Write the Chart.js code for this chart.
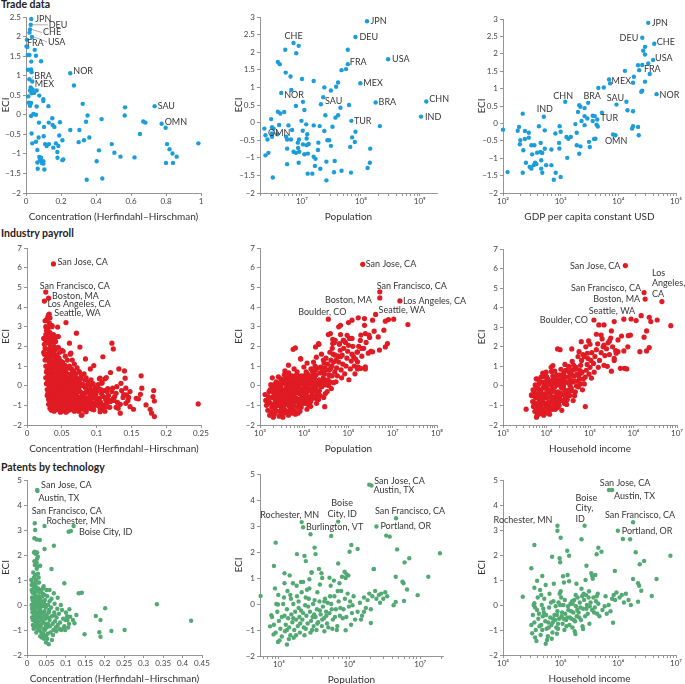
<!DOCTYPE html>
<html>
<head>
<meta charset="utf-8">
<script src="https://cdn.jsdelivr.net/npm/chart.js@4.4.1/dist/chart.umd.min.js"></script>
<style>
html, body { margin: 0; padding: 0; background: #fff; }
#wrap { position: relative; width: 685px; height: 684px; overflow: hidden; font-family: Lato, 'Noto Sans', sans-serif; }
.row-title { position: absolute; left: 1px; font-weight: bold; font-size: 10.5px; line-height: 12px; color: #222; white-space: nowrap; }
.panel { position: absolute; }
</style>
</head>
<body>
<div id="wrap">
  <div class="row-title" style="top:-2px">Trade data</div>
  <div class="row-title" style="top:227px">Industry payroll</div>
  <div class="row-title" style="top:461px">Patents by technology</div>
</div>
<script>
// ---- Trade data (countries) ----
const tradeHhi = [[0.03,2.45],[0.027,2.3],[0.023,2.18],[0.02,2.1],[0.034,1.99],[0.005,1.92],[0.003,1.75],[0.008,1.73],[0.05,1.66],[0.01,1.53],[0.02,1.53],[0.057,1.51],[0.03,1.36],[0.086,1.37],[0.253,1.06],[0.274,0.75],[0.011,1.15],[0.029,1.16],[0.032,1.09],[0.019,0.91],[0.036,0.85],[0.027,0.7],[0.038,0.65],[0.023,0.62],[0.061,0.62],[0.032,0.55],[0.046,0.56],[0.013,0.47],[0.076,0.49],[0.099,0.4],[0.099,0.35],[0.015,0.31],[0.029,0.3],[0.023,0.23],[0.061,0.21],[0.128,0.22],[0.324,0.28],[0.566,0.19],[0.735,0.22],[0.029,-0.03],[0.042,0.02],[0.057,0],[0.15,-0.09],[0.352,-0.02],[0.564,-0.02],[0.432,-0.11],[0.343,-0.18],[0.194,-0.19],[0.074,-0.2],[0.13,-0.2],[0.152,-0.26],[0.162,-0.31],[0.103,-0.31],[0.67,-0.17],[0.682,-0.2],[0.775,-0.23],[0.798,-0.33],[0.253,-0.39],[0.305,-0.39],[0.032,-0.48],[0.19,-0.53],[0.072,-0.58],[0.101,-0.55],[0.362,-0.58],[0.651,-0.49],[0.208,-0.65],[0.036,-0.73],[0.057,-0.69],[0.331,-0.65],[0.301,-0.7],[0.109,-0.75],[0.118,-0.8],[0.131,-0.75],[0.171,-0.73],[0.185,-0.8],[0.806,-0.75],[0.82,-0.88],[0.837,-0.99],[0.861,-1.07],[0.985,-0.73],[0.8,-1.23],[0.84,-1.23],[0.404,-1.19],[0.417,-0.91],[0.505,-0.97],[0.347,-1.66],[0.436,-1.63],[0.213,-1.14],[0.067,-1.38],[0.105,-1.4],[0.065,-1.22],[0.08,-1.16],[0.09,-1.23],[0.099,-1.19],[0.076,-1.08],[0.083,-1.12],[0.065,-0.9],[0.156,-0.84],[0.179,-0.95],[0.49,-0.75],[0.62,-1.09],[0.54,-1.07],[0.086,-1.1],[0.099,-1.25],[0.18,-1.1],[0.208,-1.16]];
const tradeHhiLabels = [['JPN',0.03,2.45],['DEU',0.027,2.3],['CHE',0.023,2.18],['USA',0.034,1.99],['FRA',0.005,1.92],['BRA',0.019,0.91],['MEX',0.027,0.7],['NOR',0.253,1.06],['SAU',0.735,0.22],['OMN',0.775,-0.23]];

const tradePop = [[1.27e8,2.88],[8.1e7,2.43],[7.2e6,2.26],[8.8e6,2.18],[5.2e6,2.07],[8e6,1.97],[6e7,2.07],[6e7,1.66],[5.6e7,1.52],[4.7e7,1.49],[2.9e8,1.8],[3.9e6,1.72],[4.2e6,1.66],[5.3e6,1.42],[6.4e6,1.31],[1e7,1.24],[1.58e7,1.18],[9.8e7,1.12],[4.1e7,1.14],[3.8e7,1.02],[2.4e7,1],[3.1e7,0.91],[6.6e6,0.93],[4.45e6,0.84],[2.3e7,0.72],[1.04e7,0.59],[7.9e6,0.47],[1.1e7,0.36],[2.1e7,0.52],[6.3e7,0.5],[4.5e7,0.42],[1.78e8,0.57],[1.29e9,0.6],[1.05e9,0.17],[3.9e6,0.31],[4.3e6,0.26],[5e6,0.3],[2.5e7,0.21],[4.1e7,0.21],[3.7e7,0.14],[6.9e7,0.05],[3e6,0.1],[9.8e6,0.05],[1.18e7,-0.05],[5.9e6,-0.08],[4.1e6,-0.07],[1.58e7,-0.08],[2e7,-0.1],[3.3e7,-0.12],[2.1e8,-0.1],[2.3e6,-0.17],[3.1e6,-0.13],[3.3e6,-0.17],[6.8e6,-0.21],[1.03e7,-0.23],[2.4e7,-0.24],[8.1e7,-0.26],[3.1e6,-0.31],[2.4e6,-0.36],[2.6e6,-0.48],[3.1e6,-0.4],[3.8e6,-0.33],[5.4e6,-0.4],[5.6e6,-0.48],[6.5e6,-0.48],[8.9e6,-0.48],[8.5e6,-0.57],[1.2e7,-0.45],[1.23e7,-0.33],[2.7e7,-0.5],[2.9e7,-0.5],[7.1e7,-0.42],[7.9e7,-0.55],[1.9e7,-0.57],[1.04e7,-0.62],[1.2e7,-0.64],[1.3e7,-0.61],[3.1e7,-0.66],[6.6e7,-0.69],[1.44e8,-0.74],[5.6e6,-0.74],[8.6e6,-0.72],[7.2e6,-0.83],[7.9e6,-0.86],[9e6,-0.83],[1.1e7,-0.9],[1.26e7,-0.88],[1.58e7,-0.97],[1.7e7,-1.03],[1.87e7,-0.78],[2.4e6,-0.93],[2.7e6,-0.86],[2.6e7,-1.11],[3.6e7,-1.09],[8.8e6,-1.14],[5.6e6,-1.18],[1.66e7,-1.23],[2.05e7,-1.31],[1.42e8,-1.14],[1.3e8,-1.29],[4.7e7,-1.37],[3.5e7,-1.41],[6.8e7,-1.42],[1.25e7,-1.45],[1.5e7,-1.45],[3.2e6,-1.56],[2.6e7,-1.64]];
const tradePopLabels = [['JPN',1.27e8,2.88],['DEU',8.1e7,2.43],['CHE',7.2e6,2.26],['FRA',6e7,1.66],['USA',2.9e8,1.8],['MEX',9.8e7,1.12],['NOR',4.45e6,0.84],['SAU',2.1e7,0.52],['BRA',1.78e8,0.57],['CHN',1.29e9,0.6],['IND',1.05e9,0.17],['TUR',6.9e7,0.05],['OMN',3.1e6,-0.31]];
const tradePopDecades = [1e7, 1e8, 1e9];
const tradePopTickLabels = ['10⁷', '10⁸', '10⁹'];

const tradeGdp = [[3.3e4,2.89],[2.6e4,2.46],[2.9e4,2.2],[4.2e4,2.29],[2.7e4,2.09],[2.9e4,1.98],[4e4,1.82],[3.3e4,1.72],[2.2e4,1.67],[2.6e4,1.68],[2.3e4,1.53],[3.5e4,1.42],[1.3e4,1.51],[1.86e4,1.34],[6.9e3,1.26],[7.2e3,1.15],[1.8e4,1.17],[2.9e4,1.2],[2.6e4,0.94],[2.5e4,0.91],[4.6e4,0.84],[5.6e3,1.03],[4.5e3,1.02],[1.2e3,0.62],[3e3,0.59],[1.38e4,0.62],[9.3e3,0.54],[1.44e4,0.38],[1.8e4,0.35],[2.1e3,0.52],[2.2e3,0.48],[2.6e3,0.44],[2e3,0.33],[5.2e3,0.31],[2.6e3,0.21],[2.9e3,0.14],[3.9e3,0.21],[4.3e3,0.11],[3.6e3,0.07],[2.3e3,0.07],[4.2e3,-0.04],[4.4e3,-0.09],[1.8e3,-0.02],[2.6e3,-0.05],[1.8e4,-0.08],[2.2e4,-0.1],[1.73e4,-0.15],[2.26e4,-0.34],[5.1e2,0.19],[2.2e2,0.28],[9.6e2,-0.08],[4.2e2,-0.08],[5.3e2,-0.2],[1.9e2,-0.1],[1.8e2,-0.21],[2.4e2,-0.22],[2.8e2,-0.27],[2.8e2,-0.41],[2.4e2,-0.45],[2e2,-0.48],[1.96e2,-0.6],[8.1e2,-0.29],[1e3,-0.24],[1.26e3,-0.39],[1.36e3,-0.44],[1.5e3,-0.39],[1.9e3,-0.27],[1.9e3,-0.63],[2.2e3,-0.66],[2.1e3,-0.87],[3.1e3,-0.53],[3.2e3,-0.68],[3.8e3,-0.45],[4e3,-0.44],[8.9e3,-0.34],[3.1e2,-0.63],[3.5e2,-0.63],[4.5e2,-0.56],[3.9e2,-0.84],[4.45e2,-0.82],[4.8e2,-0.85],[5.3e2,-0.73],[6.9e2,-0.75],[9.4e2,-0.56],[9.5e2,-0.72],[3.2e2,-0.89],[2.25e2,-0.77],[1.3e3,-0.99],[4.6e2,-1.06],[3.6e2,-1.13],[3.4e2,-1.2],[3.8e2,-1.17],[2.5e2,-1.13],[2.9e2,-1.25],[3.1e2,-1.3],[4.6e2,-1.3],[5.6e2,-1.2],[6.9e2,-1.2],[4.8e2,-1.42],[2.2e2,-1.42],[1.2e2,-1.4],[8.2e2,-1.42],[1e3,-1.54],[7.6e2,-1.62],[1e2,-0.18],[3.6e3,0.22],[8.1e3,-0.32]];
const tradeGdpLabels = [['JPN',3.3e4,2.89],['DEU',2.6e4,2.46],['CHE',4.2e4,2.29],['USA',4e4,1.82],['FRA',2.3e4,1.53],['MEX',7.2e3,1.15],['NOR',4.6e4,0.84],['CHN',1.2e3,0.62],['BRA',3e3,0.59],['SAU',9.3e3,0.54],['IND',5.1e2,0.19],['TUR',4.3e3,0.11],['OMN',8.9e3,-0.34]];
const tradeGdpDecades = [1e2, 1e3, 1e4, 1e5];
const tradeGdpTickLabels = ['10²', '10³', '10⁴', '10⁵'];

// ---- Industry payroll (US metro areas) ----
const payrollHhi = [[0.038,6.19],[0.027,4.76],[0.031,4.45],[0.025,4.3],[0.032,3.64],
[0.026,3.3],[0.028,3.35],[0.027,3.0],[0.024,2.4],[0.025,2.1],[0.024,1.7],[0.025,1.6],[0.026,1.9],[0.027,2.6],[0.028,2.8],[0.026,1.3],[0.027,1.0],[0.028,0.7],[0.027,0.4],[0.028,0.1],[0.029,-0.2],[0.028,1.5],[0.027,2.3],
[0.03,3.5],[0.031,3.6],[0.033,3.45],[0.032,3.2],[0.034,3.05],[0.03,2.9],[0.033,2.7],[0.031,2.5],[0.035,2.45],[0.03,2.3],[0.032,2.15],[0.034,2.0],[0.03,1.85],[0.033,1.7],[0.031,1.5],[0.035,1.55],[0.03,1.3],[0.032,1.2],[0.034,1.1],[0.03,0.95],[0.033,0.85],[0.031,0.7],[0.035,0.6],[0.03,0.5],[0.032,0.35],[0.034,0.2],[0.031,0.05],[0.033,-0.1],[0.035,-0.3],[0.032,-0.45],[0.034,-0.6],[0.035,-0.8],
[0.036,3.05],[0.038,2.6],[0.04,2.4],[0.037,2.25],[0.039,2.0],[0.041,1.85],[0.036,1.75],[0.038,1.6],[0.04,1.45],[0.042,1.3],[0.037,1.2],[0.039,1.05],[0.041,0.95],[0.036,0.85],[0.038,0.7],[0.04,0.6],[0.042,0.5],[0.037,0.4],[0.039,0.25],[0.041,0.15],[0.036,0.05],[0.038,-0.1],[0.04,-0.2],[0.042,-0.35],[0.037,-0.5],[0.039,-0.65],[0.041,-0.8],[0.038,-0.95],[0.04,-1.1],[0.042,-1.0],[0.044,-1.2],
[0.044,2.5],[0.045,1.95],[0.047,1.7],[0.043,1.55],[0.046,1.4],[0.048,1.25],[0.044,1.1],[0.047,1.0],[0.05,1.1],[0.045,0.85],[0.048,0.75],[0.043,0.65],[0.046,0.55],[0.049,0.45],[0.044,0.35],[0.047,0.25],[0.05,0.15],[0.045,0.05],[0.048,-0.05],[0.043,-0.15],[0.046,-0.25],[0.049,-0.35],[0.044,-0.5],[0.047,-0.6],[0.05,-0.7],[0.045,-0.8],[0.048,-0.9],[0.046,-1.05],[0.049,-1.15],[0.047,-1.25],[0.05,-1.3],
[0.052,1.75],[0.055,1.5],[0.058,1.3],[0.051,1.2],[0.054,1.05],[0.057,0.95],[0.06,0.9],[0.052,0.8],[0.055,0.7],[0.058,0.6],[0.051,0.5],[0.054,0.4],[0.057,0.3],[0.06,0.2],[0.052,0.1],[0.055,0.0],[0.058,-0.1],[0.051,-0.2],[0.054,-0.3],[0.057,-0.4],[0.06,-0.5],[0.052,-0.6],[0.055,-0.7],[0.058,-0.8],[0.053,-0.9],[0.056,-1.0],[0.059,-1.1],[0.054,-1.2],[0.057,-1.3],[0.06,-1.25],
[0.062,1.6],[0.065,1.3],[0.068,1.1],[0.061,1.0],[0.064,0.85],[0.067,0.75],[0.07,0.6],[0.062,0.55],[0.065,0.4],[0.068,0.3],[0.061,0.2],[0.064,0.1],[0.067,0.0],[0.07,-0.1],[0.062,-0.2],[0.065,-0.3],[0.068,-0.4],[0.061,-0.5],[0.064,-0.6],[0.067,-0.7],[0.07,-0.8],[0.063,-0.9],[0.066,-1.0],[0.069,-1.1],[0.064,-1.2],[0.068,-1.3],
[0.072,0.9],[0.075,0.7],[0.078,0.5],[0.071,0.4],[0.074,0.25],[0.077,0.1],[0.08,0.0],[0.072,-0.1],[0.075,-0.25],[0.078,-0.35],[0.071,-0.5],[0.074,-0.6],[0.077,-0.75],[0.08,-0.85],[0.073,-0.95],[0.076,-1.05],[0.079,-1.15],[0.074,-1.25],[0.078,-1.5],
[0.082,0.6],[0.085,0.4],[0.088,0.2],[0.081,0.05],[0.084,-0.1],[0.087,-0.25],[0.09,-0.4],[0.082,-0.5],[0.085,-0.65],[0.088,-0.8],[0.083,-0.95],[0.086,-1.1],[0.089,-1.0],[0.084,-1.25],
[0.092,0.3],[0.095,0.1],[0.098,-0.1],[0.091,-0.2],[0.094,-0.45],[0.097,-0.6],[0.1,-0.75],[0.093,-0.85],[0.096,-1.0],[0.099,-0.9],[0.094,-1.2],
[0.104,0.35],[0.108,0.15],[0.112,0.35],[0.103,-0.15],[0.107,-0.4],[0.11,-0.55],[0.113,-0.7],[0.117,-0.5],[0.106,-0.85],[0.109,-1.0],[0.115,-0.9],[0.119,-1.1],[0.105,-1.15],[0.112,-1.3],
[0.122,-0.3],[0.126,-0.55],[0.13,-0.85],[0.134,-0.95],[0.128,-1.1],[0.136,-0.25],[0.139,-0.45],[0.142,-0.9],[0.146,-0.6],[0.125,-0.75],
[0.029,0.8],[0.03,0.25],[0.03,-0.4],[0.031,-0.7],[0.033,0.45],[0.034,-0.9],[0.035,0.95],[0.036,-1.0],[0.037,0.15],[0.038,0.45],[0.039,-0.3],[0.04,0.9],[0.04,-0.45],[0.041,-1.2],[0.042,0.05],[0.043,-0.75],[0.043,1.0],[0.044,-0.2],[0.045,0.5],[0.045,-1.05],[0.046,-0.6],[0.046,0.9],[0.047,-0.05],[0.048,0.4],[0.048,-1.35],[0.049,0.7],[0.049,-0.55],[0.05,-1.0],[0.05,0.3],[0.051,-0.4],[0.051,0.85],[0.052,-1.1],[0.053,-0.25],[0.053,0.55],[0.054,-0.95],[0.055,0.25],[0.055,-0.5],[0.056,-1.35],[0.056,0.85],[0.057,-0.75],[0.058,0.1],[0.059,-0.3],[0.059,0.5],[0.06,-0.9],[0.06,0.0],[0.061,-0.65],[0.062,-1.1],[0.063,0.3],[0.063,-0.4],[0.064,-0.95],[0.065,0.65],[0.066,-0.15],[0.066,-0.5],[0.067,-1.25],[0.068,0.15],[0.069,-0.6],[0.069,-0.25],[0.07,0.3],[0.071,-1.05],[0.072,-0.35],[0.073,0.15],[0.073,-0.7],[0.074,-1.3],[0.075,-0.05],[0.076,-0.9],[0.077,0.35],[0.078,-0.6],[0.079,-1.2],[0.08,-0.4],[0.081,-0.7],[0.082,-1.05],[0.083,0.3],[0.084,-0.35],[0.086,-0.8],[0.087,0.05],[0.089,-0.6],[0.09,-1.15],[0.091,0.0],[0.092,-0.7],[0.093,-0.3],[0.095,-1.1],[0.097,-0.2],[0.099,-0.45],[0.101,-1.0],[0.102,0.05],[0.104,-0.65],[0.106,-0.2],[0.108,-1.1],[0.111,-0.25],[0.113,-0.95],[0.116,-0.15],[0.118,-0.75],[0.03,1.6],[0.032,2.4],[0.029,2.6],[0.031,1.0],[0.033,1.35],[0.035,1.9],[0.037,1.45],[0.039,1.75],[0.041,1.1],[0.029,-0.5],[0.031,-0.95],[0.033,-1.15],[0.035,-1.25],[0.037,-0.85],[0.039,-1.3],[0.034,0.75],[0.036,0.3],[0.038,0.1],[0.031,0.45],[0.044,0.2],[0.047,-0.35],[0.052,0.35],[0.054,-0.1],[0.057,0.6],[0.06,0.55],[0.062,-0.35],[0.065,-0.75],[0.067,0.45],[0.07,-0.5],
[0.056,3.21],[0.071,2.67],[0.036,3.0],[0.044,2.98],[0.076,1.96],[0.061,2.16],[0.063,1.65],[0.045,2.5],[0.041,2.25],[0.05,1.8],[0.122,2.16],[0.124,1.87],[0.109,1.47],[0.084,1.36],[0.096,1.02],[0.091,0.85],[0.075,0.7],[0.132,0.85],[0.14,0.75],[0.12,0.67],[0.141,0.38],[0.164,0.5],[0.105,0.38],[0.114,0.41],[0.107,0.12],[0.142,-0.13],[0.148,-0.3],[0.182,-0.25],[0.165,-0.13],[0.163,-0.44],[0.181,-0.55],[0.183,-0.78],[0.171,-0.98],[0.177,-1.2],[0.179,-1.4],[0.183,-1.57],[0.246,-0.93],[0.153,-1.2],[0.148,-1.07],[0.134,-1.4],[0.131,-1.15],[0.145,-0.76],[0.157,-0.64],[0.16,-0.67],[0.143,-0.47],[0.128,-0.39],[0.138,-0.6],[0.124,-0.64],[0.12,-0.8],[0.115,-1.07],[0.11,-1.23],[0.103,-0.98],[0.098,-0.55],[0.1,-0.3],[0.091,-0.38],[0.115,-0.3],[0.123,-0.13],[0.129,-0.05],[0.135,0.12],[0.085,-1.32],[0.079,-1.49],[0.096,-1.23],[0.105,-1.32]];
const payrollHhiLabels = [['San Jose, CA',0.038,6.19],['San Francisco, CA',0.027,4.76],['Boston, MA',0.031,4.45],['Los Angeles, CA',0.025,4.3],['Seattle, WA',0.032,3.64]];

const payrollPop = [[2.1e5,6.17],[5.1e5,4.77],[5.1e5,4.46],[1.45e6,4.31],[4.1e5,3.62],[3.5e4,3.38],
[1.3e3,-0.45],[1.35e3,-0.75],[1.4e3,-1.0],[1.5e3,-1.25],[1.6e3,-0.3],[1.55e3,-0.55],[1.7e3,-0.9],[1.8e3,-1.35],[1.75e3,0.05],[1.9e3,0.4],[1.95e3,-0.15],[1.85e3,-1.1],[1.65e3,-1.5],
[2.0e3,-1.6],[2.1e3,-1.45],[2.2e3,-1.2],[2.05e3,-0.95],[2.3e3,-0.8],[2.15e3,-0.6],[2.4e3,-0.4],[2.25e3,-0.2],[2.5e3,0.0],[2.35e3,0.2],[2.6e3,0.45],[2.7e3,-1.55],[2.8e3,-1.3],[2.9e3,-1.05],[2.65e3,-0.85],[3.0e3,-0.65],[2.75e3,-0.45],[3.1e3,-0.25],[2.85e3,-0.05],[3.2e3,0.15],[2.95e3,0.35],[2.2e3,0.1],[2.45e3,-1.0],[3.05e3,-1.45],
[3.3e3,-1.6],[3.5e3,-1.4],[3.4e3,-1.15],[3.7e3,-0.95],[3.6e3,-0.7],[3.9e3,-0.5],[3.45e3,-0.3],[4.0e3,-0.1],[3.8e3,0.1],[4.2e3,0.3],[3.55e3,0.55],[4.4e3,-1.5],[4.6e3,-1.25],[4.3e3,-1.0],[4.8e3,-0.8],[4.5e3,-0.6],[4.9e3,-0.35],[4.1e3,-0.2],[4.7e3,0.0],[4.35e3,0.2],[4.95e3,0.4],[3.65e3,0.75],[4.45e3,0.65],[3.35e3,-0.85],
[5.1e3,-1.4],[5.4e3,-1.2],[5.7e3,-1.0],[5.2e3,-0.75],[6.0e3,-0.55],[5.5e3,-0.3],[6.3e3,-0.1],[5.8e3,0.1],[6.6e3,0.3],[5.3e3,0.5],[6.9e3,0.7],[6.2e3,-1.3],[7.0e3,-1.1],[7.4e3,-0.85],[6.7e3,-0.65],[7.7e3,-0.4],[7.1e3,-0.2],[7.8e3,0.05],[6.4e3,0.15],[7.5e3,0.45],[5.9e3,0.85],[7.2e3,-1.4],[5.6e3,1.85],
[8.0e3,-1.3],[8.5e3,-1.1],[9.0e3,-0.9],[8.2e3,-0.7],[9.5e3,-0.5],[8.8e3,-0.3],[1.0e4,-0.1],[9.2e3,0.1],[1.05e4,0.3],[8.6e3,0.5],[1.1e4,0.7],[9.8e3,0.95],[1.15e4,-1.2],[1.2e4,-0.95],[1.08e4,-0.75],[1.22e4,-0.55],[1.12e4,-0.35],[1.25e4,-0.15],[1.18e4,0.05],[1.02e4,0.25],[1.24e4,0.45],[1.16e4,1.15],[8.3e3,1.35],
[1.3e4,-1.0],[1.4e4,-0.8],[1.35e4,-0.6],[1.5e4,-0.4],[1.45e4,-0.2],[1.6e4,0.0],[1.55e4,0.2],[1.7e4,0.4],[1.65e4,0.6],[1.8e4,0.8],[1.75e4,1.0],[1.9e4,-0.9],[1.85e4,-0.65],[1.95e4,-0.45],[1.38e4,0.1],[1.48e4,0.5],[1.62e4,1.2],[1.72e4,-0.25],[1.98e4,0.15],[1.88e4,1.45],[1.42e4,0.85],
[2.1e4,-0.7],[2.3e4,-0.5],[2.2e4,-0.25],[2.5e4,-0.05],[2.4e4,0.2],[2.7e4,0.4],[2.6e4,0.65],[2.9e4,0.9],[2.8e4,1.15],[3.1e4,1.4],[2.15e4,2.1],[2.45e4,1.6],[3.0e4,-0.4],[2.75e4,-0.6],[3.15e4,0.05],[2.35e4,0.95],[2.95e4,0.25],
[3.3e4,-0.3],[3.6e4,0.0],[3.4e4,0.3],[3.9e4,0.5],[3.7e4,0.8],[4.2e4,1.0],[4.0e4,1.3],[4.5e4,1.6],[4.3e4,1.9],[4.8e4,2.2],[3.5e4,2.6],[4.6e4,0.15],[4.1e4,-0.15],[4.9e4,0.7],[3.8e4,1.7],[4.4e4,2.35],
[5.2e4,0.2],[5.6e4,0.5],[5.4e4,0.9],[6.0e4,1.2],[5.8e4,1.5],[6.5e4,1.8],[6.2e4,2.1],[7.0e4,0.4],[6.8e4,0.8],[7.4e4,1.1],[7.2e4,1.55],[7.8e4,1.9],[7.6e4,2.3],[5.3e4,1.3],[6.6e4,2.6],
[8.2e4,0.6],[8.8e4,1.0],[9.2e4,1.4],[9.6e4,1.75],[1.0e5,2.05],[1.05e5,2.4],[1.1e5,0.85],[1.15e5,1.25],[1.2e5,1.6],[8.5e4,2.2],[1.25e5,2.0],[1.02e5,0.3],
[1.35e5,1.0],[1.45e5,1.35],[1.55e5,1.7],[1.7e5,2.0],[1.85e5,2.3],[2.0e5,1.5],[2.2e5,1.9],[2.5e5,2.2],[2.8e5,1.65],[3.0e5,2.45],[1.4e5,0.6],[1.65e5,0.95],[2.4e5,0.85],[3.2e5,1.75],
[1.6e3,-0.8],[1.7e3,-0.2],[1.9e3,-0.6],[2.0e3,-0.35],[2.1e3,-0.05],[2.2e3,-0.75],[2.3e3,-1.0],[2.4e3,-1.3],[2.5e3,-0.6],[2.6e3,-0.25],[2.7e3,0.1],[2.8e3,-0.7],[2.9e3,-0.4],[3.0e3,0.0],[3.1e3,-1.2],[3.2e3,-0.9],
[3.4e3,0.3],[3.5e3,-0.55],[3.6e3,-0.2],[3.7e3,-1.25],[3.8e3,-0.75],[3.9e3,0.4],[4.0e3,-1.3],[4.1e3,-0.6],[4.2e3,-0.35],[4.3e3,0.05],[4.4e3,-0.85],[4.5e3,-0.1],[4.6e3,0.45],[4.7e3,-1.05],[4.8e3,-0.5],[4.9e3,0.15],[5.0e3,-0.6],[5.1e3,0.2],[5.3e3,-0.15],[5.5e3,-0.9],[5.7e3,-0.4],[5.9e3,0.35],[6.1e3,-0.8],[6.3e3,-1.45],[6.5e3,-0.35],[6.7e3,0.55],[6.9e3,-0.05],[7.1e3,-0.75],[7.3e3,0.25],[7.6e3,-0.95],[7.9e3,-0.15],
[8.1e3,0.2],[8.4e3,-0.45],[8.7e3,-0.95],[9.1e3,0.3],[9.4e3,-0.2],[9.7e3,-0.7],[1.0e4,0.5],[1.04e4,-0.9],[1.07e4,-0.3],[1.1e4,0.15],[1.14e4,-0.6],[1.18e4,0.6],[1.22e4,-0.05],[1.26e4,-0.8],[1.3e4,0.3],[1.35e4,-0.25],[1.4e4,-1.05],[1.45e4,0.25],[1.5e4,-0.65],[1.55e4,0.7],[1.6e4,-0.2],[1.65e4,0.35],[1.7e4,-0.55],[1.75e4,0.15],[1.8e4,-0.2],[1.85e4,0.55],[1.9e4,0.0],[1.95e4,0.9],
[2.05e4,-0.35],[2.15e4,0.3],[2.25e4,0.65],[2.35e4,0.0],[2.5e4,0.85],[2.6e4,0.2],[2.7e4,1.3],[2.85e4,0.6],[3.0e4,0.05],[3.2e4,0.8],[3.4e4,1.1],[3.6e4,0.55],[3.8e4,0.2],[4.0e4,0.9],[4.3e4,0.5],[4.6e4,1.2],
[2.2e6,3.11],[1.05e6,3.38],[8e5,3.36],[6.8e5,3.28],[3.5e5,3.33],[2.3e5,3.41],[1.66e5,3.45],[1.2e5,3.33],[1e5,3.21],[6.6e4,3.07],[6e4,2.99],[6.3e5,2.82],[3.8e5,2.77],[2.3e5,3.07],[2.4e5,2.65],[2.9e5,2.57],[4.7e5,2.48],[1.9e5,2.57],[1.2e5,2.4],[9.3e4,2.56],[7.8e4,2.31],[6.3e4,2.14],[5e4,2.31],[3.9e4,2.65],[4.4e4,2.14],[2.1e4,2.14],[1.8e4,1.97],[7.6e5,2.14],[6.8e5,1.97],[5e5,1.81],[3.5e5,1.72],[2e5,1.89],[1.6e5,1.72],[1.3e5,1.47],[1.6e5,1.21],[1.9e5,0.88],[1.6e5,0.85],[2.4e5,0.96],[6.6e4,1.47],[5e4,1.55],[6.3e3,1.92],[8.3e3,1.38],[4.4e3,1.04],[2.9e4,-1.07]];
const payrollPopLabels = [['San Jose, CA',2.1e5,6.17],['San Francisco, CA',5.1e5,4.77],['Boston, MA',5.1e5,4.46],['Los Angeles, CA',1.45e6,4.31],['Seattle, WA',4.1e5,3.62],['Boulder, CO',3.5e4,3.38]];
const payrollPopDecades = [1e3, 1e4, 1e5, 1e6, 1e7];
const payrollPopTickLabels = ['10³', '10⁴', '10⁵', '10⁷', '10⁸'];

const payrollIncome = [[6.5e5,6.15],[1.75e6,4.77],[1.85e6,4.44],[4.5e6,4.31],[1.5e6,3.59],[1.23e5,3.37],
[4.6e3,-0.5],[4.8e3,-0.8],[5.0e3,-1.05],[5.2e3,-0.3],[5.4e3,-1.3],[5.6e3,-0.6],[5.8e3,-0.9],[6.0e3,-1.15],[6.2e3,-0.1],[6.4e3,-0.4],[6.6e3,-1.45],[6.8e3,-0.7],[5.5e3,0.05],[6.1e3,0.35],[4.9e3,-0.2],[6.9e3,-1.0],[5.9e3,-1.6],
[7.2e3,-1.25],[7.6e3,-1.0],[8.0e3,-0.75],[8.4e3,-0.5],[7.4e3,-0.25],[8.8e3,0.0],[7.8e3,0.2],[9.2e3,0.45],[8.2e3,0.65],[9.6e3,-1.35],[1.0e4,-1.1],[1.05e4,-0.85],[9.0e3,-0.6],[1.1e4,-0.35],[9.4e3,-0.1],[1.02e4,0.15],[8.6e3,-1.5],[1.08e4,0.35],[7.0e3,-0.55],[9.8e3,0.7],[1.07e4,-1.4],[8.1e3,-1.2],
[1.15e4,-1.3],[1.2e4,-1.05],[1.25e4,-0.8],[1.3e4,-0.55],[1.35e4,-0.3],[1.4e4,-0.05],[1.45e4,0.2],[1.5e4,0.45],[1.55e4,0.75],[1.6e4,-1.2],[1.65e4,-0.95],[1.7e4,-0.7],[1.75e4,-0.45],[1.22e4,-0.2],[1.32e4,0.05],[1.42e4,0.3],[1.52e4,-0.6],[1.62e4,0.1],[1.72e4,0.55],[1.28e4,0.95],[1.18e4,-1.45],[1.38e4,-1.2],
[1.8e4,-1.1],[1.9e4,-0.85],[2.0e4,-0.6],[2.1e4,-0.35],[2.2e4,-0.1],[2.3e4,0.15],[2.4e4,0.4],[2.5e4,0.65],[2.6e4,-0.9],[2.7e4,-0.65],[2.8e4,-0.4],[1.85e4,0.3],[1.95e4,0.55],[2.05e4,1.85],[2.15e4,0.85],[2.35e4,-0.75],[2.45e4,0.0],[2.55e4,0.25],[2.65e4,1.1],[2.25e4,-1.25],[2.75e4,0.8],
[2.9e4,-0.95],[3.0e4,-0.7],[3.15e4,-0.45],[3.3e4,-0.2],[3.45e4,0.05],[3.6e4,0.3],[3.8e4,0.55],[4.0e4,0.8],[4.2e4,1.05],[4.4e4,-0.5],[3.1e4,0.45],[3.35e4,0.7],[3.7e4,-0.1],[3.9e4,1.25],[4.3e4,0.25],[3.25e4,1.0],[4.1e4,-0.75],
[4.6e4,-0.3],[4.9e4,0.0],[5.2e4,0.25],[5.5e4,0.5],[5.8e4,0.8],[6.1e4,1.05],[6.4e4,1.3],[6.7e4,-0.2],[7.0e4,0.35],[4.8e4,0.95],[5.3e4,1.5],[6.0e4,0.1],[6.6e4,0.7],[5.6e4,1.75],[6.9e4,1.6],
[7.4e4,0.1],[7.8e4,0.45],[8.2e4,0.8],[8.6e4,1.1],[9.0e4,1.4],[9.5e4,0.6],[1.0e5,0.95],[1.05e5,1.3],[1.1e5,1.7],[8.0e4,2.0],[9.3e4,2.3],[1.08e5,0.4],
[1.2e5,1.15],[1.3e5,1.5],[1.4e5,1.85],[1.5e5,2.15],[1.65e5,1.3],[1.8e5,1.7],[2.0e5,2.0],[2.2e5,1.55],[1.25e5,0.7],[1.55e5,0.95],[1.9e5,2.4],[2.1e5,1.05],
[2.4e5,1.9],[2.6e5,2.2],[2.8e5,1.6],[3.0e5,2.45],[3.3e5,2.0],[3.6e5,1.3],[3.9e5,1.8],[2.5e5,1.0],[3.1e5,0.75],
[5.0e3,-0.45],[5.3e3,-0.85],[5.7e3,-0.15],[6.1e3,-0.6],[6.5e3,-1.05],[7.0e3,-0.2],[7.3e3,-0.8],[7.7e3,-0.45],[8.0e3,-1.4],[8.3e3,-0.1],[8.7e3,-0.85],[9.0e3,0.2],[9.3e3,-0.4],[9.7e3,-1.0],[1.0e4,-0.15],[6.7e3,0.1],[7.5e3,0.45],[5.6e3,-1.3],
[1.05e4,-0.6],[1.1e4,0.05],[1.15e4,-0.85],[1.2e4,-0.35],[1.25e4,0.25],[1.3e4,-1.1],[1.35e4,-0.7],[1.4e4,0.5],[1.45e4,-0.25],[1.5e4,-0.9],[1.55e4,-0.05],[1.6e4,0.35],[1.65e4,-0.5],[1.7e4,-1.05],[1.75e4,0.15],[1.8e4,-0.3],[1.85e4,-0.65],[1.9e4,0.05],[1.95e4,-1.0],[2.0e4,0.3],[2.1e4,-0.75],[2.2e4,0.55],[2.3e4,-0.45],[2.4e4,-0.1],[2.5e4,0.15],
[2.6e4,-0.2],[2.7e4,0.45],[2.8e4,-0.75],[2.9e4,0.2],[3.0e4,-0.3],[3.2e4,0.15],[3.4e4,-0.5],[3.6e4,0.6],[3.8e4,-0.25],[4.0e4,0.2],[4.3e4,0.5],[4.6e4,0.25],[5.0e4,0.6],[5.4e4,-0.05],[5.8e4,0.35],[6.2e4,0.65],[3.3e4,0.95],[4.5e4,0.85],
[7.2e6,3.08],[3.5e6,3.37],[2.3e6,3.51],[2.5e6,3.29],[1.15e6,3.34],[8.8e5,3.42],[6e5,3.41],[3.6e5,3.29],[2.1e5,3.12],[1.6e5,3.12],[3.1e5,2.81],[2e6,2.81],[7.6e5,2.57],[8.5e5,2.6],[1.75e6,2.49],[5.3e5,2.55],[4.4e5,2.35],[2.8e5,2.3],[2.1e5,2.09],[1.8e5,2.6],[1.4e5,2.64],[6.3e4,2.26],[1e5,2.13],[3.8e4,1.89],[1.8e4,1.89],[2e6,1.79],[2.3e6,1.96],[1.4e6,1.75],[7.4e5,2.0],[6e5,1.79],[4.4e5,1.75],[4e5,1.67],[3.6e5,1.41],[6.2e5,0.9],[7e5,0.87],[5e5,0.9],[8.7e4,1.67],[7.4e4,1.5],[7.8e4,-1.06],[3.4e3,-1.19],[5.8e3,-1.06],[6.1e3,-1.48],[1.4e4,1.04],[1.3e4,0.73],[1e4,0.47],[5.8e3,0.36],[7e3,0.22],[4.5e3,-0.46]];
const payrollIncomeLabels = [['San Jose, CA',6.5e5,6.15],['San Francisco, CA',1.75e6,4.77],['Boston, MA',1.85e6,4.44],['Los\nAngeles,\nCA',4.5e6,4.31],['Seattle, WA',1.5e6,3.59],['Boulder, CO',1.23e5,3.37]];
const payrollIncomeDecades = [1e3, 1e4, 1e5, 1e6, 1e7];
const payrollIncomeTickLabels = ['10³', '10⁴', '10⁵', '10⁶', '10⁷'];

// ---- Patents by technology (US metro areas) ----
const patentHhi = [[0.026,4.6],[0.027,4.56],[0.02,3.27],[0.045,3.16],[0.113,2.96],
[0.011,1.0],[0.012,0.6],[0.013,0.3],[0.012,0.0],[0.014,-0.3],[0.013,-0.5],[0.015,0.9],[0.016,0.15],[0.017,-0.15],[0.015,-0.8],[0.018,1.1],[0.019,0.45],[0.017,-0.45],[0.02,-0.05],[0.019,-0.9],[0.016,1.3],[0.018,0.7],[0.02,0.25],[0.014,0.5],[0.02,-0.65],[0.018,2.1],[0.02,1.6],[0.019,1.75],
[0.021,1.2],[0.022,0.85],[0.023,0.55],[0.024,0.2],[0.025,-0.1],[0.026,-0.4],[0.027,-0.7],[0.028,-1.0],[0.022,-0.25],[0.024,-0.55],[0.026,0.05],[0.028,0.35],[0.023,1.0],[0.025,0.7],[0.027,-0.85],[0.029,-0.3],[0.021,0.1],[0.029,0.65],[0.024,-1.1],[0.028,1.25],[0.022,2.05],[0.026,1.85],[0.025,1.45],
[0.031,0.9],[0.032,0.5],[0.033,0.15],[0.034,-0.2],[0.035,-0.5],[0.036,-0.8],[0.037,-1.1],[0.038,-1.3],[0.031,-0.65],[0.033,-0.35],[0.035,0.3],[0.037,0.6],[0.039,-0.05],[0.032,-1.0],[0.034,-1.25],[0.036,0.0],[0.038,-0.6],[0.03,1.1],[0.039,0.35],[0.033,-0.9],[0.04,-1.2],[0.04,0.05],
[0.041,0.45],[0.043,0.1],[0.045,-0.25],[0.047,-0.55],[0.049,-0.85],[0.042,-1.15],[0.044,-1.35],[0.046,0.2],[0.048,-0.1],[0.05,-0.4],[0.042,-0.7],[0.044,-0.45],[0.046,-1.0],[0.048,-1.25],[0.05,0.6],[0.043,0.75],[0.047,-0.75],[0.049,-1.5],
[0.052,0.35],[0.054,0.0],[0.056,-0.3],[0.058,-0.6],[0.051,-0.9],[0.053,-1.15],[0.055,-0.5],[0.057,-0.2],[0.059,-0.85],[0.06,-1.1],[0.052,-1.35],[0.058,0.15],[0.054,-0.75],
[0.062,-0.1],[0.064,-0.45],[0.066,-0.75],[0.068,-1.0],[0.07,-0.3],[0.072,-0.65],[0.074,-0.9],[0.076,-0.5],[0.078,-0.15],[0.063,0.25],[0.067,-1.2],[0.071,0.05],[0.075,-1.05],
[0.082,-0.35],[0.085,-0.7],[0.088,-1.0],[0.09,-0.2],[0.093,-0.55],[0.096,-0.85],[0.1,-0.3],[0.104,-0.6],[0.106,-0.9],[0.098,-1.0],[0.087,0.0],[0.103,-0.45],[0.108,-0.75],
[0.012,0.8],[0.013,-0.15],[0.014,0.2],[0.015,-0.6],[0.016,0.55],[0.017,-0.95],[0.018,-0.3],[0.019,0.1],[0.02,0.8],[0.021,-0.45],[0.022,0.35],[0.023,-0.8],[0.024,0.55],[0.025,-0.35],[0.026,0.9],[0.027,0.25],[0.028,-0.5],[0.029,0.0],[0.03,-0.85],[0.031,0.3],[0.032,-0.15],[0.034,0.6],[0.036,-0.35],[0.038,0.15],[0.041,-0.3],[0.043,-0.95],[0.045,0.4],[0.047,0.0],
[0.12,3.16],[0.107,2.93],[0.021,3.0],[0.019,2.67],[0.025,2.62],[0.033,2.6],[0.069,2.37],[0.045,2.24],[0.02,2.13],[0.026,2.1],[0.028,1.93],[0.021,1.73],[0.025,1.68],[0.027,1.53],[0.034,1.57],[0.063,1.44],[0.096,0.87],[0.133,0.47],[0.141,0.49],[0.201,-0.13],[0.177,-0.44],[0.189,-0.6],[0.334,0.03],[0.422,-0.63],[0.251,-1.0],[0.217,-1.04],[0.186,-1.09],[0.189,-1.27],[0.148,-1.17],[0.127,-0.4],[0.109,-0.17],[0.111,-0.47],[0.118,-0.6],[0.122,-0.73],[0.099,-0.6],[0.094,-0.93],[0.084,-0.96],[0.079,-0.8],[0.071,-0.4],[0.079,0.29],[0.069,0.47],[0.058,0.6],[0.041,0.67],[0.064,-1.4],[0.056,-1.57],[0.047,-1.27]];
const patentHhiLabels = [['San Jose, CA',0.026,4.6],['Austin, TX',0.027,4.56],['San Francisco, CA',0.02,3.27],['Rochester, MN',0.045,3.16],['Boise City, ID',0.113,2.96]];

const patentPop = [[1.9e6,4.59],[2.04e6,4.56],[4.55e6,3.3],[2.4e6,2.98],[6.9e5,3.17],[2.1e5,3.15],[2.2e5,2.95],
[8.0e4,-0.5],[8.5e4,-0.8],[9.0e4,-1.1],[9.5e4,-0.3],[1.0e5,-0.65],[1.05e5,-0.95],[1.1e5,-1.25],[1.15e5,0.0],[1.2e5,-0.45],[1.25e5,-0.8],[8.8e4,0.6],[1.02e5,-1.4],[1.18e5,0.25],[1.22e5,-1.05],[9.8e4,0.35],
[1.3e5,-0.2],[1.35e5,-0.55],[1.4e5,-0.9],[1.45e5,-1.2],[1.5e5,-0.4],[1.55e5,-0.7],[1.6e5,0.0],[1.65e5,-1.0],[1.7e5,-0.3],[1.75e5,-0.6],[1.8e5,0.3],[1.85e5,-0.85],[1.9e5,-0.15],[1.95e5,-0.5],[1.32e5,0.5],[1.48e5,0.2],[1.62e5,-1.3],[1.78e5,0.7],[1.42e5,1.1],[1.58e5,0.8],[1.98e5,-1.1],[1.38e5,-1.35],
[2.05e5,-0.25],[2.15e5,-0.6],[2.25e5,-0.9],[2.35e5,-0.05],[2.45e5,-0.45],[2.55e5,-0.75],[2.65e5,0.2],[2.75e5,-0.3],[2.85e5,-0.65],[2.95e5,-1.0],[3.05e5,0.0],[3.15e5,-0.4],[2.1e5,0.45],[2.3e5,-1.2],[2.5e5,0.55],[2.7e5,0.95],[2.9e5,1.2],[3.1e5,-0.85],[2.2e5,0.85],[2.4e5,0.25],
[3.3e5,-0.5],[3.45e5,-0.2],[3.6e5,-0.7],[3.75e5,0.1],[3.9e5,-0.4],[4.05e5,-0.85],[4.2e5,-0.1],[4.35e5,-0.55],[4.5e5,0.2],[4.65e5,-0.3],[4.8e5,-0.75],[3.5e5,0.45],[3.8e5,0.75],[4.1e5,1.0],[4.4e5,-1.05],[4.9e5,0.05],[3.4e5,-1.0],[3.7e5,1.35],
[5.2e5,-0.35],[5.5e5,0.0],[5.8e5,-0.6],[6.1e5,0.3],[6.4e5,-0.2],[6.7e5,-0.85],[7.0e5,0.1],[7.3e5,-0.45],[7.6e5,0.5],[5.4e5,0.7],[6.0e5,0.9],[6.6e5,-1.0],[7.2e5,0.8],[5.7e5,-0.95],[7.8e5,1.05],
[8.2e5,-0.2],[8.6e5,0.2],[9.0e5,-0.5],[9.4e5,0.4],[9.8e5,-0.1],[1.02e6,0.1],[1.08e6,-0.35],[1.14e6,0.3],[1.2e6,-0.6],[8.8e5,1.0],[9.6e5,1.1],[1.05e6,-0.8],
[1.3e6,-0.3],[1.4e6,0.05],[1.5e6,-0.45],[1.6e6,0.25],[1.7e6,-0.15],[1.8e6,0.15],[1.9e6,0.4],[2.0e6,-0.2],[2.1e6,0.3],[2.3e6,0.5],[2.4e6,0.2],[1.45e6,-0.6],[2.2e6,1.35],
[2.6e6,0.35],[2.8e6,0.4],[3.0e6,0.2],[3.2e6,0.45],[2.7e6,0.05],[3.4e6,0.3],
[1.1e5,-0.5],[1.3e5,-1.0],[1.45e5,0.35],[1.6e5,-0.55],[1.75e5,-1.2],[1.9e5,0.1],[2.0e5,-0.75],[2.2e5,-0.35],[2.4e5,-0.95],[2.6e5,-0.1],[2.8e5,-1.1],[3.0e5,-0.5],[3.2e5,0.15],[3.5e5,-0.75],[3.8e5,-0.25],[4.1e5,-0.6],[4.4e5,0.1],[4.7e5,-0.45],[5.0e5,-0.9],[5.3e5,0.3],[5.6e5,-0.2],[6.2e5,-0.5],[6.8e5,0.5],[7.4e5,-0.15],[8.0e5,-0.55],[1.1e6,-0.05],[1.6e6,-0.3],[1.2e5,0.8],[9.2e4,0.0],[2.7e5,0.6],
[2.8e5,2.68],[5.5e5,2.62],[3.3e6,2.63],[3.7e6,2.59],[9e4,2.36],[1.06e6,2.27],[1.3e6,2.12],[1e6,2.01],[3.2e5,2.17],[3.3e5,1.92],[1.8e5,1.92],[2.3e5,1.85],[2.4e5,1.65],[4.7e6,2.1],[1.9e7,1.95],[7e6,1.76],[6e6,1.6],[8.5e4,1.46],[6.9e5,1.56],[8.5e5,1.24],[9e5,1.15],[1.3e7,1.05],[4.5e6,1.05],[2.2e6,1.34],[5.6e6,0.86],[5.8e6,0.8],[6.5e6,0.56],[9.2e6,0.34],[5.9e6,0.12],[4.5e6,0.08],[4.2e6,-0.05],[5.5e4,0.31],[9.7e4,-0.02],[7.8e4,-0.43],[7.5e4,-0.86],[8.4e4,-1.17],[9.7e4,-1.46],[1.3e5,-1.56],[1.2e5,1.18],[2.05e5,0.85],[4e5,1.18],[2.9e5,1.22],[5.2e5,1.01],[2e6,-0.73],[8.8e5,-1.01]];
const patentPopLabels = [['San Jose, CA',1.9e6,4.59],['Austin, TX',2.04e6,4.56],['Boise\nCity, ID',6.9e5,3.17],['Rochester, MN',2.1e5,3.15],['Burlington, VT',2.2e5,2.95],['San Francisco, CA',4.55e6,3.3],['Portland, OR',2.4e6,2.98]];
const patentPopDecades = [1e5, 1e6, 1e7];
const patentPopTickLabels = ['10⁵', '10⁶', '10⁷'];

const patentIncome = [[6.9e5,4.6],[7.8e5,4.6],[1.8e6,3.31],[9.8e5,2.97],[2.6e5,3.17],[8.8e4,3.17],
[3.3e4,-0.4],[3.5e4,-0.7],[3.7e4,-1.0],[3.9e4,-0.2],[4.1e4,-0.55],[4.3e4,-0.85],[4.5e4,-1.2],[4.7e4,0.0],[4.9e4,-0.45],[3.6e4,-1.3],[4.0e4,0.3],[4.4e4,0.6],[4.8e4,-1.0],[3.4e4,0.0],[4.6e4,0.4],
[5.1e4,-0.3],[5.4e4,-0.65],[5.7e4,-0.95],[6.0e4,-1.25],[6.3e4,-0.1],[6.6e4,-0.5],[6.9e4,-0.8],[7.2e4,-1.1],[7.5e4,0.15],[7.8e4,-0.4],[5.2e4,0.25],[5.8e4,-1.4],[6.4e4,0.45],[7.0e4,-1.35],[5.5e4,0.8],[7.6e4,0.85],[6.1e4,-0.7],[7.3e4,-0.7],
[8.0e4,-0.6],[8.4e4,-0.9],[8.8e4,-0.25],[9.2e4,0.1],[9.6e4,0.45],[1.0e5,0.55],[1.04e5,-0.45],[1.08e5,-0.75],[1.12e5,0.0],[1.16e5,-1.0],[1.2e5,-0.35],[8.6e4,-1.15],[9.4e4,-0.55],[1.02e5,0.3],[1.1e5,1.15],[1.14e5,0.9],[1.24e5,-0.6],[9.0e4,-0.95],
[1.3e5,-0.5],[1.36e5,-0.2],[1.42e5,-0.8],[1.48e5,0.05],[1.54e5,-0.55],[1.6e5,-0.9],[1.66e5,-0.3],[1.72e5,0.2],[1.78e5,-0.65],[1.84e5,-0.05],[1.9e5,-0.45],[1.96e5,0.3],[1.4e5,0.95],[1.58e5,0.15],[1.75e5,-1.05],[1.88e5,0.85],[1.32e5,1.2],
[2.05e5,-0.3],[2.15e5,0.1],[2.25e5,-0.6],[2.35e5,0.35],[2.45e5,-0.15],[2.55e5,0.2],[2.65e5,-0.45],[2.75e5,0.4],[2.85e5,0.0],[2.95e5,-0.35],[3.05e5,0.3],[3.15e5,-0.75],[2.3e5,0.65],[2.7e5,1.0],[2.4e5,-0.85],[3.1e5,0.55],
[3.3e5,0.1],[3.5e5,-0.2],[3.7e5,0.3],[3.9e5,-0.1],[4.1e5,0.15],[4.3e5,-0.35],[4.5e5,0.05],[4.7e5,-0.45],[3.6e5,1.05],[4.0e5,1.2],[4.4e5,0.45],
[5.3e5,-0.2],[5.8e5,-0.05],[6.3e5,-0.35],[6.8e5,0.0],[7.3e5,-0.25],[7.8e5,0.25],[8.3e5,0.4],[8.8e5,0.2],[9.3e5,0.5],[6.0e5,0.35],
[1.05e6,0.3],[1.15e6,0.4],[1.25e6,0.1],[1.35e6,0.45],[1.5e6,0.2],[1.65e6,0.0],
[3.6e4,-0.1],[4.2e4,-0.35],[4.6e4,-0.8],[5.0e4,-0.15],[5.6e4,-0.4],[6.2e4,-0.9],[6.8e4,0.1],[7.4e4,-0.55],[8.2e4,-0.05],[8.6e4,-0.4],[9.0e4,-0.75],[9.8e4,0.0],[1.06e5,-0.3],[1.12e5,-0.55],[1.18e5,0.2],[1.26e5,-0.85],[1.34e5,-0.05],[1.44e5,-0.5],[1.52e5,-0.25],[1.62e5,0.05],[1.7e5,-0.6],[1.82e5,0.4],[1.94e5,-0.2],[2.1e5,-0.5],[2.2e5,-0.1],[2.5e5,0.45],[2.8e5,-0.15],[3.2e5,-0.05],[3.8e5,-0.3],[4.2e5,0.35],
[8.8e4,2.97],[1e5,2.69],[2.3e5,2.63],[1.2e6,2.64],[1.6e6,2.63],[3.5e4,2.4],[4.5e5,2.29],[5.1e5,2.13],[4.2e5,2.03],[1.3e5,2.17],[1.4e5,1.97],[7.1e4,1.93],[9.6e4,1.87],[9.8e4,1.71],[2e6,2.11],[8e6,1.97],[2.8e6,1.76],[2.35e6,1.63],[3.1e4,1.47],[2.8e5,1.57],[3.4e5,1.27],[3.5e5,1.17],[8.7e5,1.36],[1.8e6,1.04],[4.6e6,1.04],[2.2e6,0.87],[2.3e6,0.77],[2.5e6,0.57],[3.8e6,0.36],[2.2e6,0.13],[2.2e4,0.33],[3.9e4,0.97],[4.8e4,1.16],[3.5e4,0.69],[3.5e4,0.07],[3.1e4,-0.8],[3.2e4,-1.13],[3.8e4,-1.44],[5.5e4,-1.55],[8.1e5,-0.71],[2.45e5,-0.96],[1.8e5,-1.16]];
const patentIncomeLabels = [['San Jose, CA',6.9e5,4.6],['Austin, TX',7.8e5,4.6],['Boise\nCity,\nID',2.6e5,3.17],['Rochester, MN',8.8e4,3.17],['San Francisco, CA',1.8e6,3.31],['Portland, OR',9.8e5,2.97]];
const patentIncomeDecades = [1e4, 1e5, 1e6, 1e7];
const patentIncomeTickLabels = ['10⁴', '10⁵', '10⁶', '10⁷'];

const BLUE = '#1b9ddb';
const RED = '#e01b24';
const GREEN = '#52aa72';
const AXIS = '#7a7a7a';
const FONT = "Lato, 'Noto Sans', sans-serif";
const HHI_TITLE = 'Concentration (Herfindahl–Hirschman)';

Chart.defaults.font.family = FONT;

function fmtNum(v) {
  return String(Number(v.toFixed(2))).replace('-', '−');
}

function logTicks(min, max) {
  const out = [];
  for (let e = Math.floor(Math.log10(min)); e <= Math.ceil(Math.log10(max)); e++) {
    for (let m = 1; m < 10; m++) {
      const v = m * Math.pow(10, e);
      if (v >= min * 0.999 && v <= max * 1.001) out.push({ value: v });
    }
  }
  return out;
}

// draws the country / city names next to their points
const pointLabels = {
  id: 'pointLabels',
  afterDatasetsDraw(chart, args, opts) {
    const { ctx, scales: { x, y } } = chart;
    ctx.save();
    ctx.font = '9px ' + FONT;
    ctx.fillStyle = '#363636';
    ctx.strokeStyle = '#777';
    ctx.lineWidth = 0.6;
    ctx.textBaseline = 'middle';
    opts.items.forEach(([text, vx, vy], i) => {
      const [dx, dy, align, leader] = opts.place[i];
      const px = x.getPixelForValue(vx);
      const py = y.getPixelForValue(vy);
      if (leader) {
        ctx.beginPath();
        ctx.moveTo(px + 2, py);
        ctx.lineTo(px + dx - 1, py + dy);
        ctx.stroke();
      }
      ctx.textAlign = align || 'left';
      text.split('\n').forEach((line, j) => ctx.fillText(line, px + dx, py + dy + j * 10.5));
    });
    ctx.restore();
  }
};

function xScale(p) {
  const common = {
    position: 'bottom',
    bounds: 'data',
    min: p.x.min,
    max: p.x.max,
    border: { display: true, color: AXIS, width: 0.8 },
    grid: { display: true, drawOnChartArea: false, drawTicks: true, tickLength: 3, color: AXIS, lineWidth: 0.8 },
    title: { display: true, text: p.x.title, color: '#333', font: { size: 10 }, padding: 0 },
    afterFit: s => { s.height = 30; }
  };
  const tickCommon = { color: '#444', font: { size: 8 }, padding: 1, autoSkip: false, maxRotation: 0, minRotation: 0 };
  if (p.x.type === 'log') {
    return Object.assign(common, {
      type: 'logarithmic',
      afterBuildTicks: s => { s.ticks = logTicks(p.x.min, p.x.max); },
      ticks: Object.assign(tickCommon, {
        callback: v => {
          const i = p.x.decades.findIndex(d => Math.abs(v / d - 1) < 1e-6);
          return i >= 0 ? p.x.tickLabels[i] : '';
        }
      })
    });
  }
  return Object.assign(common, {
    type: 'linear',
    ticks: Object.assign(tickCommon, { stepSize: p.x.step, callback: v => fmtNum(v) })
  });
}

function buildPanel(p) {
  const left = p.axisX - p.yW;
  const top = p.topY - 8;
  const box = document.createElement('div');
  box.className = 'panel';
  box.style.left = left + 'px';
  box.style.top = top + 'px';
  box.style.width = (p.rightX - left + p.padR) + 'px';
  box.style.height = (p.bottomY - top + 30) + 'px';
  const canvas = document.createElement('canvas');
  box.appendChild(canvas);
  document.getElementById('wrap').appendChild(box);

  new Chart(canvas, {
    type: 'scatter',
    data: {
      datasets: [{
        data: p.data.map(([x, y]) => ({ x, y })),
        backgroundColor: p.color,
        borderWidth: 0,
        pointRadius: p.radius,
        clip: false
      }]
    },
    options: {
      responsive: true,
      maintainAspectRatio: false,
      animation: false,
      events: [],
      layout: { padding: { top: 8, right: p.padR, left: 0, bottom: 0 } },
      plugins: {
        legend: { display: false },
        tooltip: { enabled: false },
        pointLabels: { items: p.labels, place: p.place }
      },
      scales: {
        x: xScale(p),
        y: {
          type: 'linear',
          position: 'left',
          min: p.y.min,
          max: p.y.max,
          border: { display: true, color: AXIS, width: 0.8 },
          grid: { display: true, drawOnChartArea: false, drawTicks: true, tickLength: 3, color: AXIS, lineWidth: 0.8 },
          ticks: { stepSize: p.y.step, color: '#444', font: { size: 8 }, padding: 2, autoSkip: false, callback: v => fmtNum(v) },
          title: { display: true, text: 'ECI', color: '#333', font: { size: 10 }, padding: 0 },
          afterFit: s => { s.width = p.yW; }
        }
      }
    },
    plugins: [pointLabels]
  });
}

const panels = [
  { data: tradeHhi, labels: tradeHhiLabels, color: BLUE, radius: 2.2,
    place: [[4,0],[18,0,'left',1],[13,3,'left',1],[16,5,'left',1],[0,3.5],[5,-3,'left',1],[4,-3],[3,-2],[3,0],[3,-2]],
    axisX: 26, yW: 26, rightX: 201, topY: 17, bottomY: 193, padR: 10,
    x: { type: 'linear', min: 0, max: 1, step: 0.2, title: HHI_TITLE }, y: { min: -2, max: 2.5, step: 0.5 } },
  { data: tradePop, labels: tradePopLabels, color: BLUE, radius: 2.2,
    place: [[3.5,0],[4,0],[0,-7,'center'],[2,-2.5],[4,0],[3,0],[3,2],[4,-3],[3,0],[3,-2],[4,0],[2.5,0],[-4,0]],
    axisX: 260, yW: 27, rightX: 437, topY: 17, bottomY: 193, padR: 24,
    x: { type: 'log', min: 1.94e6, max: 1.96e9, decades: tradePopDecades, tickLabels: tradePopTickLabels, title: 'Population' },
    y: { min: -2, max: 3, step: 0.5 } },
  { data: tradeGdp, labels: tradeGdpLabels, color: BLUE, radius: 2.2,
    place: [[3.5,0],[-4,0,'right'],[2.5,-1.5],[2,-2],[4.7,-0.7],[1.5,-2],[3,0.7],[-2,-6,'center'],[4,-7,'center'],[-1,-6.7,'center'],[1,-7.3,'center'],[3.3,-1],[0.7,6,'center']],
    axisX: 503, yW: 27, rightX: 676, topY: 19, bottomY: 193, padR: 9,
    x: { type: 'log', min: 1e2, max: 1e5, decades: tradeGdpDecades, tickLabels: tradeGdpTickLabels, title: 'GDP per capita constant USD' },
    y: { min: -2, max: 3, step: 0.5 } },
  { data: payrollHhi, labels: payrollHhiLabels, color: RED, radius: 2.6,
    place: [[4,-2],[29,-6,'center'],[3.5,-2],[3,3],[5,-1]],
    axisX: 27, yW: 27, rightX: 201, topY: 248, bottomY: 425, padR: 10,
    x: { type: 'linear', min: 0, max: 0.25, step: 0.05, title: HHI_TITLE }, y: { min: -2, max: 7, step: 1 } },
  { data: payrollPop, labels: payrollPopLabels, color: RED, radius: 2.6,
    place: [[3,0],[32,-6,'center'],[-8,2,'right'],[3,0],[3,-4],[-6,-7,'center']],
    axisX: 260, yW: 27, rightX: 437, topY: 248, bottomY: 425, padR: 40,
    x: { type: 'log', min: 1e3, max: 1e7, decades: payrollPopDecades, tickLabels: payrollPopTickLabels, title: 'Population' },
    y: { min: -2, max: 7, step: 1 } },
  { data: payrollIncome, labels: payrollIncomeLabels, color: RED, radius: 2.6,
    place: [[-5,0,'right'],[-3,-5,'right'],[-5,0,'right'],[-10,-29],[-6,-5,'right'],[-6,0,'right']],
    axisX: 503, yW: 27, rightX: 677, topY: 249, bottomY: 425, padR: 8,
    x: { type: 'log', min: 1e3, max: 1e7, decades: payrollIncomeDecades, tickLabels: payrollIncomeTickLabels, title: 'Household income' },
    y: { min: -2, max: 7, step: 1 } },
  { data: patentHhi, labels: patentHhiLabels, color: GREEN, radius: 2.2,
    place: [[4,-5],[1,7],[32,-12,'center'],[2,-5],[8,1]],
    axisX: 27, yW: 27, rightX: 202, topY: 480, bottomY: 655, padR: 10,
    x: { type: 'linear', min: 0, max: 0.45, step: 0.05, title: HHI_TITLE }, y: { min: -2, max: 5, step: 1 } },
  { data: patentPop, labels: patentPopLabels, color: GREEN, radius: 2.2,
    place: [[5,-4],[2,5],[4,-18,'center'],[-12,-7,'center'],[3,0],[14,-7,'center'],[4,0]],
    axisX: 260, yW: 27, rightX: 443, topY: 474, bottomY: 656, padR: 10,
    x: { type: 'log', min: 5.4e4, max: 2.1e7, decades: patentPopDecades, tickLabels: patentPopTickLabels, title: 'Population' },
    y: { min: -2, max: 5, step: 1 } },
  { data: patentIncome, labels: patentIncomeLabels, color: GREEN, radius: 2.2,
    place: [[16,-7,'center'],[2,6],[-9,-28],[-5,-6,'right'],[7,-7,'center'],[4,0]],
    axisX: 503, yW: 27, rightX: 676, topY: 480, bottomY: 655, padR: 9,
    x: { type: 'log', min: 1e4, max: 1e7, decades: patentIncomeDecades, tickLabels: patentIncomeTickLabels, title: 'Household income' },
    y: { min: -2, max: 5, step: 1 } }
];

panels.forEach(buildPanel);
</script>
</body>
</html>
